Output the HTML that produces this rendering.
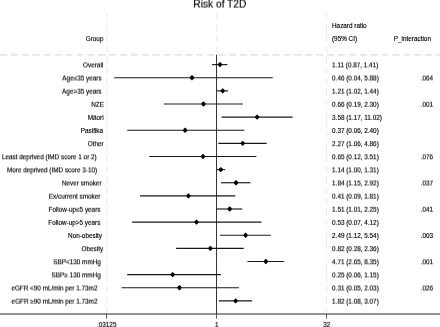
<!DOCTYPE html><html><head><meta charset="utf-8"><title>Risk of T2D</title><style>html,body{margin:0;padding:0;background:#fff}svg{display:block}text{font-family:"Liberation Sans",Arial,Helvetica,sans-serif;fill:#000;stroke:#000;stroke-width:0.14px}</style></head><body>
<svg width="440" height="327" viewBox="0 0 440 327">
<defs><filter id="s1" x="-5%" y="-40%" width="110%" height="180%" color-interpolation-filters="sRGB"><feConvolveMatrix order="1 2" kernelMatrix="0.1 0.9" targetX="0" targetY="0" divisor="1" edgeMode="none" preserveAlpha="false"/></filter><filter id="s2" x="-5%" y="-40%" width="110%" height="180%" color-interpolation-filters="sRGB"><feConvolveMatrix order="1 2" kernelMatrix="0.2 0.8" targetX="0" targetY="0" divisor="1" edgeMode="none" preserveAlpha="false"/></filter><filter id="s3" x="-5%" y="-40%" width="110%" height="180%" color-interpolation-filters="sRGB"><feConvolveMatrix order="1 2" kernelMatrix="0.3 0.7" targetX="0" targetY="0" divisor="1" edgeMode="none" preserveAlpha="false"/></filter><filter id="s4" x="-5%" y="-40%" width="110%" height="180%" color-interpolation-filters="sRGB"><feConvolveMatrix order="1 2" kernelMatrix="0.4 0.6" targetX="0" targetY="0" divisor="1" edgeMode="none" preserveAlpha="false"/></filter><filter id="s5" x="-5%" y="-40%" width="110%" height="180%" color-interpolation-filters="sRGB"><feConvolveMatrix order="1 2" kernelMatrix="0.5 0.5" targetX="0" targetY="0" divisor="1" edgeMode="none" preserveAlpha="false"/></filter><filter id="s6" x="-5%" y="-40%" width="110%" height="180%" color-interpolation-filters="sRGB"><feConvolveMatrix order="1 2" kernelMatrix="0.6 0.4" targetX="0" targetY="0" divisor="1" edgeMode="none" preserveAlpha="false"/></filter><filter id="s7" x="-5%" y="-40%" width="110%" height="180%" color-interpolation-filters="sRGB"><feConvolveMatrix order="1 2" kernelMatrix="0.7 0.3" targetX="0" targetY="0" divisor="1" edgeMode="none" preserveAlpha="false"/></filter><filter id="s8" x="-5%" y="-40%" width="110%" height="180%" color-interpolation-filters="sRGB"><feConvolveMatrix order="1 2" kernelMatrix="0.8 0.2" targetX="0" targetY="0" divisor="1" edgeMode="none" preserveAlpha="false"/></filter><filter id="s9" x="-5%" y="-40%" width="110%" height="180%" color-interpolation-filters="sRGB"><feConvolveMatrix order="1 2" kernelMatrix="0.9 0.1" targetX="0" targetY="0" divisor="1" edgeMode="none" preserveAlpha="false"/></filter></defs>
<rect width="440" height="327" fill="#fff"/>
<line x1="106.85" y1="12.7" x2="106.85" y2="313.5" stroke="#ebebeb" stroke-width="1.1" stroke-dasharray="7.26 3.64"/>
<line x1="216.75" y1="12.7" x2="216.75" y2="313.5" stroke="#ebebeb" stroke-width="1.1" stroke-dasharray="7.26 3.64"/>
<line x1="326.55" y1="12.7" x2="326.55" y2="313.5" stroke="#ebebeb" stroke-width="1.1" stroke-dasharray="7.26 3.64"/>
<line x1="0" y1="54.85" x2="440" y2="54.85" stroke="#dcdcdc" stroke-width="1.2" stroke-dasharray="7.26 3.64"/>
<line x1="216.5" y1="54.75" x2="216.5" y2="313.9" stroke="#2a2a2a" stroke-width="0.95"/>
<line x1="0" y1="314.0" x2="440" y2="314.0" stroke="#2a2a2a" stroke-width="1.1"/>
<line x1="106.5" y1="314.0" x2="106.5" y2="318.7" stroke="#333" stroke-width="0.8"/>
<text x="106.70" y="327" font-size="6.37" text-anchor="middle" filter="url(#s1)">.03125</text>
<line x1="216.5" y1="314.0" x2="216.5" y2="318.7" stroke="#333" stroke-width="0.8"/>
<text x="216.70" y="327" font-size="6.37" text-anchor="middle" filter="url(#s1)">1</text>
<line x1="326.5" y1="314.0" x2="326.5" y2="318.7" stroke="#333" stroke-width="0.8"/>
<text x="326.70" y="327" font-size="6.37" text-anchor="middle" filter="url(#s1)">32</text>
<text x="193.35" y="8" font-size="10.2" filter="url(#s4)">Risk of T2D</text>
<text x="85.77" y="42" font-size="6.37" filter="url(#s9)">Group</text>
<text x="332.00" y="28" font-size="6.37">Hazard ratio</text>
<text x="332.00" y="41" font-size="6.37">(95% CI)</text>
<text x="393.82" y="41" font-size="6.37">P_interaction</text>
<text x="83.09" y="68" font-size="6.37" filter="url(#s6)">Overall</text>
<line x1="212.08" y1="64.62" x2="227.41" y2="64.62" stroke="#181818" stroke-width="1.15"/>
<path d="M217.66 64.62Q218.44 62.84 219.96 61.92Q221.48 62.84 222.26 64.62Q221.48 66.40 219.96 67.32Q218.44 66.40 217.66 64.62Z" fill="#000"/>
<text x="332.10" y="68" font-size="6.37" filter="url(#s6)">1.11 (0.87, 1.41)</text>
<text x="62.36" y="81" font-size="6.37" filter="url(#s5)">Age≤35 years</text>
<line x1="114.34" y1="77.75" x2="272.73" y2="77.75" stroke="#181818" stroke-width="1.15"/>
<path d="M189.70 77.75Q190.49 75.96 192.00 75.05Q193.52 75.96 194.30 77.75Q193.52 79.53 192.00 80.45Q190.49 79.53 189.70 77.75Z" fill="#000"/>
<text x="332.10" y="81" font-size="6.37" filter="url(#s5)">0.46 (0.04, 5.88)</text>
<text x="420.74" y="81" font-size="6.37" filter="url(#s5)">.064</text>
<text x="62.12" y="94" font-size="6.37" filter="url(#s3)">Age&gt;35 years</text>
<line x1="217.13" y1="90.87" x2="228.07" y2="90.87" stroke="#181818" stroke-width="1.15"/>
<path d="M220.40 90.87Q221.18 89.09 222.70 88.17Q224.22 89.09 225.00 90.87Q224.22 92.65 222.70 93.57Q221.18 92.65 220.40 90.87Z" fill="#000"/>
<text x="332.10" y="94" font-size="6.37" filter="url(#s3)">1.21 (1.02, 1.44)</text>
<text x="91.16" y="107" font-size="6.37" filter="url(#s2)">NZE</text>
<line x1="163.79" y1="104.00" x2="242.94" y2="104.00" stroke="#181818" stroke-width="1.15"/>
<path d="M201.16 104.00Q201.94 102.21 203.46 101.30Q204.98 102.21 205.76 104.00Q204.98 105.78 203.46 106.70Q201.94 105.78 201.16 104.00Z" fill="#000"/>
<text x="332.10" y="107" font-size="6.37" filter="url(#s2)">0.66 (0.19, 2.30)</text>
<text x="420.74" y="107" font-size="6.37" filter="url(#s2)">.001</text>
<text x="87.70" y="120" font-size="6.37" filter="url(#s1)">Māori</text>
<line x1="221.48" y1="117.12" x2="292.67" y2="117.12" stroke="#181818" stroke-width="1.15"/>
<path d="M254.83 117.12Q255.61 115.34 257.13 114.42Q258.65 115.34 259.43 117.12Q258.65 118.90 257.13 119.82Q255.61 118.90 254.83 117.12Z" fill="#000"/>
<text x="332.10" y="120" font-size="6.37" filter="url(#s1)">3.58 (1.17, 11.02)</text>
<text x="80.78" y="133" font-size="6.37">Pasifika</text>
<line x1="127.20" y1="130.25" x2="244.29" y2="130.25" stroke="#181818" stroke-width="1.15"/>
<path d="M182.79 130.25Q183.58 128.46 185.09 127.55Q186.61 128.46 187.39 130.25Q186.61 132.03 185.09 132.94Q183.58 132.03 182.79 130.25Z" fill="#000"/>
<text x="332.10" y="133" font-size="6.37">0.37 (0.06, 2.40)</text>
<text x="87.70" y="147" font-size="6.37" filter="url(#s8)">Other</text>
<line x1="218.35" y1="143.37" x2="266.68" y2="143.37" stroke="#181818" stroke-width="1.15"/>
<path d="M240.37 143.37Q241.15 141.59 242.67 140.67Q244.19 141.59 244.97 143.37Q244.19 145.15 242.67 146.07Q241.15 145.15 240.37 143.37Z" fill="#000"/>
<text x="332.10" y="147" font-size="6.37" filter="url(#s8)">2.27 (1.06, 4.86)</text>
<text x="1.96" y="160" font-size="6.37" filter="url(#s7)">Least deprived (IMD score 1 or 2)</text>
<line x1="149.20" y1="156.50" x2="256.35" y2="156.50" stroke="#181818" stroke-width="1.15"/>
<path d="M200.68 156.50Q201.46 154.71 202.98 153.80Q204.50 154.71 205.28 156.50Q204.50 158.28 202.98 159.19Q201.46 158.28 200.68 156.50Z" fill="#000"/>
<text x="332.10" y="160" font-size="6.37" filter="url(#s7)">0.65 (0.12, 3.51)</text>
<text x="420.74" y="160" font-size="6.37" filter="url(#s7)">.076</text>
<text x="6.96" y="173" font-size="6.37" filter="url(#s6)">More deprived (IMD score 3-10)</text>
<line x1="216.50" y1="169.62" x2="225.07" y2="169.62" stroke="#181818" stroke-width="1.15"/>
<path d="M218.51 169.62Q219.29 167.84 220.81 166.92Q222.33 167.84 223.11 169.62Q222.33 171.40 220.81 172.32Q219.29 171.40 218.51 169.62Z" fill="#000"/>
<text x="332.10" y="173" font-size="6.37" filter="url(#s6)">1.14 (1.00, 1.31)</text>
<text x="61.95" y="186" font-size="6.37" filter="url(#s5)">Never smoker</text>
<line x1="220.94" y1="182.75" x2="250.51" y2="182.75" stroke="#181818" stroke-width="1.15"/>
<path d="M233.70 182.75Q234.49 180.96 236.00 180.05Q237.52 180.96 238.30 182.75Q237.52 184.53 236.00 185.44Q234.49 184.53 233.70 182.75Z" fill="#000"/>
<text x="332.10" y="186" font-size="6.37" filter="url(#s5)">1.84 (1.15, 2.92)</text>
<text x="420.74" y="186" font-size="6.37" filter="url(#s5)">.037</text>
<text x="48.87" y="199" font-size="6.37" filter="url(#s3)">Ex/current smoker</text>
<line x1="140.07" y1="195.87" x2="235.33" y2="195.87" stroke="#181818" stroke-width="1.15"/>
<path d="M186.05 195.87Q186.83 194.09 188.35 193.17Q189.87 194.09 190.65 195.87Q189.87 197.65 188.35 198.57Q186.83 197.65 186.05 195.87Z" fill="#000"/>
<text x="332.10" y="199" font-size="6.37" filter="url(#s3)">0.41 (0.09, 1.81)</text>
<text x="48.53" y="212" font-size="6.37" filter="url(#s2)">Follow-up≤5 years</text>
<line x1="216.82" y1="209.00" x2="242.24" y2="209.00" stroke="#181818" stroke-width="1.15"/>
<path d="M227.43 209.00Q228.21 207.21 229.73 206.30Q231.25 207.21 232.03 209.00Q231.25 210.78 229.73 211.69Q228.21 210.78 227.43 209.00Z" fill="#000"/>
<text x="332.10" y="212" font-size="6.37" filter="url(#s2)">1.51 (1.01, 2.25)</text>
<text x="420.74" y="212" font-size="6.37" filter="url(#s2)">.041</text>
<text x="48.29" y="225" font-size="6.37" filter="url(#s1)">Follow-up&gt;5 years</text>
<line x1="132.10" y1="222.12" x2="261.44" y2="222.12" stroke="#181818" stroke-width="1.15"/>
<path d="M194.20 222.12Q194.98 220.34 196.50 219.42Q198.02 220.34 198.80 222.12Q198.02 223.90 196.50 224.82Q194.98 223.90 194.20 222.12Z" fill="#000"/>
<text x="332.10" y="225" font-size="6.37" filter="url(#s1)">0.53 (0.07, 4.12)</text>
<text x="68.09" y="238" font-size="6.37">Non-obesity</text>
<line x1="220.10" y1="235.25" x2="270.84" y2="235.25" stroke="#181818" stroke-width="1.15"/>
<path d="M243.31 235.25Q244.09 233.46 245.61 232.55Q247.12 233.46 247.91 235.25Q247.12 237.03 245.61 237.94Q244.09 237.03 243.31 235.25Z" fill="#000"/>
<text x="332.10" y="238" font-size="6.37">2.49 (1.12, 5.54)</text>
<text x="420.74" y="238" font-size="6.37">.003</text>
<text x="81.55" y="252" font-size="6.37" filter="url(#s8)">Obesity</text>
<line x1="176.10" y1="248.37" x2="243.75" y2="248.37" stroke="#181818" stroke-width="1.15"/>
<path d="M208.05 248.37Q208.83 246.59 210.35 245.67Q211.87 246.59 212.65 248.37Q211.87 250.15 210.35 251.07Q208.83 250.15 208.05 248.37Z" fill="#000"/>
<text x="332.10" y="252" font-size="6.37" filter="url(#s8)">0.82 (0.28, 2.36)</text>
<text x="53.28" y="265" font-size="6.37" filter="url(#s7)">SBP&lt;130 mmHg</text>
<line x1="247.43" y1="261.50" x2="283.86" y2="261.50" stroke="#181818" stroke-width="1.15"/>
<path d="M263.54 261.50Q264.32 259.71 265.84 258.80Q267.35 259.71 268.14 261.50Q267.35 263.28 265.84 264.19Q264.32 263.28 263.54 261.50Z" fill="#000"/>
<text x="332.10" y="265" font-size="6.37" filter="url(#s7)">4.71 (2.65, 8.35)</text>
<text x="420.74" y="265" font-size="6.37" filter="url(#s7)">.001</text>
<text x="51.61" y="278" font-size="6.37" filter="url(#s6)">SBP≥ 130 mmHg</text>
<line x1="127.20" y1="274.62" x2="220.94" y2="274.62" stroke="#181818" stroke-width="1.15"/>
<path d="M170.35 274.62Q171.13 272.84 172.65 271.92Q174.17 272.84 174.95 274.62Q174.17 276.40 172.65 277.32Q171.13 276.40 170.35 274.62Z" fill="#000"/>
<text x="332.10" y="278" font-size="6.37" filter="url(#s6)">0.25 (0.06, 1.15)</text>
<text x="11.38" y="291" font-size="6.37" filter="url(#s5)">eGFR &lt;90 mL/min per 1.73m2</text>
<line x1="121.42" y1="287.75" x2="238.97" y2="287.75" stroke="#181818" stroke-width="1.15"/>
<path d="M177.18 287.75Q177.96 285.96 179.48 285.05Q181.00 285.96 181.78 287.75Q181.00 289.53 179.48 290.44Q177.96 289.53 177.18 287.75Z" fill="#000"/>
<text x="332.10" y="291" font-size="6.37" filter="url(#s5)">0.31 (0.05, 2.03)</text>
<text x="420.74" y="291" font-size="6.37" filter="url(#s5)">.026</text>
<text x="11.62" y="304" font-size="6.37" filter="url(#s3)">eGFR ≥90 mL/min per 1.73m2</text>
<line x1="218.94" y1="300.87" x2="252.10" y2="300.87" stroke="#181818" stroke-width="1.15"/>
<path d="M233.36 300.87Q234.14 299.09 235.66 298.17Q237.17 299.09 237.96 300.87Q237.17 302.65 235.66 303.57Q234.14 302.65 233.36 300.87Z" fill="#000"/>
<text x="332.10" y="304" font-size="6.37" filter="url(#s3)">1.82 (1.08, 3.07)</text>
</svg></body></html>
